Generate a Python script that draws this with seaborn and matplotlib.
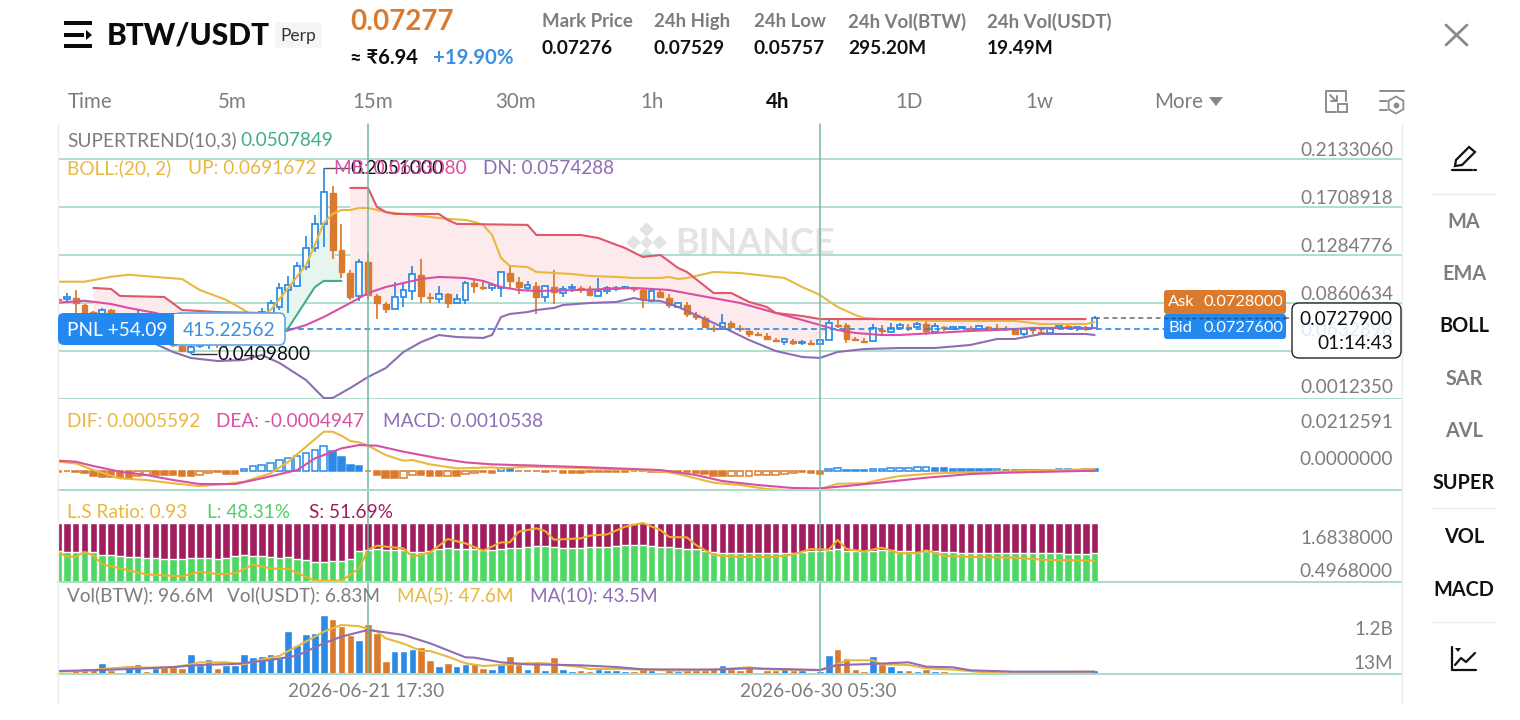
import numpy as np
import pandas as pd
import matplotlib
matplotlib.use("Agg")
import matplotlib.pyplot as plt
from matplotlib.patches import FancyBboxPatch, Polygon, Rectangle
import seaborn as sns

sns.set_theme(style="white")
plt.rcParams['font.family'] = ['Lato', 'DejaVu Sans']

# ---- prices are in units of 0.001 USDT ----
high = [91.4,94.9,97.6,85.2,79,81.7,80.8,75.5,76.4,79.9,74.6,71.9,71.1,64.9,51.6,49.9,53.4,53.4,55.2,56.9,
        60.5,71.1,76.4,81.7,88.8,103.8,110,122.3,145.3,163.9,205.1,189.5,156,115.3,125,131.2,94.1,87,104.7,104.7,
        118.8,125,94.9,101.1,94.9,94.1,105.6,108.2,104.7,102.9,113.5,118.8,109.1,105.6,104.7,101.1,115.3,101.1,102.9,101.1,
        101.1,108.2,101.1,101.1,101.1,100.2,99.4,97.6,97.6,94.1,87,87,78.1,74.6,66.6,76.4,70.2,66.6,62.2,60.5,
        59.6,55.2,55.2,54.3,53.4,53.4,54.3,71.9,71.9,68.4,56,55.2,67.5,67,68.4,68.4,67.5,69.3,71.9,68.4,
        65.8,65.8,65.8,65.8,66.6,65.8,67.5,65.8,63.1,64,64,63.1,64.9,66.6,66.6,65.8,65.8,74.6]
open_ = [89.6,89.6,90.5,84.3,78.1,76.4,79.9,74.6,70.2,69.3,73.7,66.6,69.3,61.4,48.1,42.8,48.1,49,51.6,50.7,
         53.4,56.9,64.9,71.1,77.3,82.6,97.6,101.1,117.9,134.7,156,183.3,133,112.6,92.3,122.3,92.3,85.2,80.8,91.4,
         96.7,110.9,91.4,89.6,94.1,86.1,88.8,103.8,100.2,99.4,99.4,112.6,104.7,99.4,101.1,91.4,100.2,94.9,99.4,99.4,
         98.5,92.3,96.7,98.5,99.4,99.4,97.6,87.9,95.8,90.5,82.6,84.3,75.5,72.8,64,63.1,68.4,64,61.4,58.7,
         56.9,53.4,51.6,52.5,50.7,50.7,49.9,53.4,66.6,66.6,54.3,52.5,52.5,62.2,60.5,64,64.9,64.9,67.5,60.5,
         64.9,63.1,64,64,63.1,64.9,64,64,62.2,58.7,63.1,60.5,59.6,64,65.8,64,64,64]
close = [88.8,91.4,86.1,78.1,73.7,79.9,74.6,70.2,73.7,74.6,68.4,70.2,63.1,49,43.7,47.2,50.7,50.7,49.9,54.3,
         57.8,66.6,72.8,78.1,86.1,99.4,102,118.8,134.7,156,184.2,133,113.5,91.4,122.3,93.2,86.1,80.8,91.4,97.6,
         111.7,92.3,90.5,94.1,86.1,89.6,103.8,101.1,99.4,102,113.5,105.6,100.2,102,91.4,101.1,95.8,98.5,100.2,98.5,
         93.2,96.7,99.4,99.4,100.2,98.5,89.6,96.7,91.4,84.3,86.1,76.4,73.7,64.9,63.1,68.4,64.9,63.1,58.7,57.8,
         54.3,52.5,54.3,50.7,51.6,49.9,53.4,68.4,65.8,54.3,53.4,51.6,64,61.4,64,66.6,64,67.5,61.4,65.8,
         64,64.9,64.9,63.1,65.8,64,63.1,63.1,58.7,63.1,62.2,59.6,64,65.8,64,64.9,63.1,72.8]
low = [87.9,87.9,77.3,74.6,71.1,73.7,72.8,67.5,67.5,66.6,65.8,64.9,61.4,47.2,42.8,40.98,46.3,45.5,46.3,47.2,
       50.7,55.2,62.2,69.3,75.5,79.9,77.3,100.2,115.3,131.2,135.6,125,108.2,88.8,87.9,88.8,71.9,77.3,80.8,82.6,
       88.8,86.1,86.1,86.1,81.7,86.1,85.2,94.9,97.6,96.7,91.4,99.4,94.1,96.7,76.4,87,85.2,91.4,95.8,94.9,
       93.2,92.3,94.1,96.7,98.5,95.8,81.7,87.9,91.4,81.7,81.7,73.7,71.1,64,60.5,63.1,64,60.5,56,56.9,
       54.3,52.5,49,49,49,49.9,49.9,53.4,64,50.7,53.4,51.6,52.5,57.8,59.6,63.1,61.4,64,57.8,60.5,
       61.4,62.2,63.1,61.4,62.2,62.2,61.4,61.4,57.8,56.9,58.7,58.7,58.7,63.1,63.1,61.4,61.4,64]

boll_up_x = [0,3,6,8,11,14,16,19,21,22,23,24,26,28,29,30,31,32,33,34,35,37,41,44,46,47,48,49,50,51,53,54,56,58,60,63,65,68,69,70,71,74,77,80,82,84,86,88,90,91,95,99,103,108,111,114,116,117]
boll_up = [104.9,104.9,109.3,111.1,109.1,107.3,97.6,88.8,79.9,74.6,74.6,79.9,99.4,119.7,137.4,156.8,164.8,168.3,168.3,170.1,170.1,166.5,163,160.4,159.5,157.7,155.1,146.2,125.9,118.8,117.9,113.5,112.6,111.7,110,109.1,108.2,108.2,109.1,107.3,108.2,113.5,112.6,110,108.2,100.2,93.2,82.6,75.5,72.8,71.1,70.2,70.2,70.2,67.5,67.5,67.5,69.3]
boll_mb_x = [0,3,6,8,11,13,15,18,22,25,28,30,33,35,37,41,43,46,48,50,52,54,59,65,69,72,77,81,84,86,88,90,93,95,99,103,106,110,116,117]
boll_mb = [86.4,88.1,85.2,81.7,77.3,72.8,66.6,63.1,59.6,59.6,66.6,73.7,86.1,94.9,100.2,107.3,109.1,108.2,105.6,100.2,97.6,96.7,97.6,99.4,97.6,93.2,86.1,77.3,71.1,66.6,62.2,59.6,57.8,57.8,59.6,61.4,62.2,64,64,64]
boll_dn_x = [0,5,9,11,13,15,18,21,23,25,28,30,31,33,35,37,39,41,43,45,48,49,50,51,53,54,56,57,60,63,65,66,68,70,72,75,78,81,84,86,88,91,95,99,103,106,108,111,116,117]
boll_dn = [75.5,66.6,58.7,49.9,42.8,37.5,34.8,35.7,40.1,33.1,18,2.1,2.1,11,20.7,28.6,42.8,51.6,57.8,56,55.2,57.8,73.7,76.4,78.1,79.9,81.7,84.3,86.1,87,90.5,88.8,87.9,82.6,75.5,64.9,53.4,43.7,38.4,37.5,42.8,45.4,46.3,46.3,49,54.3,54.3,58.7,58.7,57.8]
st_down1_x = [4,6,7,12,14,18,23]
st_down1 = [99.4,98.5,92.3,91.4,79.9,78.1,77.3]
st_down2_x = [33,35,36,37,38,43,44,45,53,54,59,61,64,66,68,70,71,74,76,78,80,81,84,86,116]
st_down2 = [187.8,187.8,171,166.5,164.8,164.8,159.5,156,155.1,146.2,146.2,143.5,134.7,126.8,128.5,117,113.5,94.9,94.9,87,82.6,77.3,74.6,71.9,71.9]
st_up_x = [25,26,29,30,32]
st_up = [57.8,64,100.2,105.6,105.6]
position_price = 63.1
last_price = 72.79

price_ticks = [213.306, 170.8918, 128.4776, 86.0634, 43.6492, 1.235]

# ---- MACD, units of 0.001 ----
macd_hist = [-1,-.4,-.5,-1.5,-3,-3.5,-3.7,-3.9,-3.9,-3,-2.2,-2.2,-2.2,-2.4,-3,-3,-2.4,-1.5,-1,-2,
             -2,1,2.4,3.2,4.5,6.1,6.9,8.4,9.7,11.5,14,11.2,7.5,3.2,2.4,-.3,-2.4,-4,-4.3,-4,
             -2.6,-2.6,-3,-3.2,-3,-3.2,-1.9,-1.3,-1,-1.1,1.5,1.5,-.3,-.3,-.3,-1,-.3,-1.2,-1.2,-1.2,
             -.5,-.8,-.8,-.8,-.8,-.3,-.3,-.5,-.5,-.8,-.8,-1,-1.5,-1.8,-2.8,-3,-2.9,-2.8,-2.7,-2.5,
             -2.4,-2.2,-1.7,-1.3,-1,-1.4,-1.6,1,1.4,.5,.5,.5,1,1.1,1.4,1.6,1.7,1.9,2,1.4,
             1.3,1,1,1,.9,.8,1.2,.5,.4,.4,.4,.4,.4,1.2,1.2,.4,1,1]
dif_x = [0,2,4,7,10,13,16,19,21,24,26,28,30,31,32,33,34,35,37,39,40,42,45,49,50,53,59,68,70,72,74,77,80,83,86,88,91,93,95,99,103,117]
dif = [5.03,4.1,.37,-4.28,-5.22,-7.08,-8.57,-7.45,-6.15,-1.49,5.03,13.41,21.8,21.8,19.56,16.58,15.84,13.97,8.76,5.59,5.96,3.54,1.3,1.86,1.3,2.24,1.5,-.19,-1.86,-4.28,-6.71,-8.01,-10.25,-10.99,-10.25,-7.27,-7.08,-4.84,-2.98,-1.49,-.93,.93]
dea_x = [0,2,4,7,10,13,16,20,23,27,29,32,34,36,39,43,46,49,53,59,68,72,75,79,83,86,89,93,98,103,107,117]
dea = [5.59,5.03,2.61,-.56,-2.42,-5.22,-7.45,-7.45,-4.28,.37,6.89,12.48,14.35,13.97,10.62,6.89,4.66,3.54,2.98,2.05,.37,-2.42,-5.78,-8.01,-9.69,-9.87,-8.57,-6.52,-3.91,-1.86,-1.12,0]
macd_ticks = [21.2591, 0]

# ---- long/short ----
long_pct = [52,50.8,50.3,50.8,51.4,45.8,45.2,44.1,42.9,41.8,40.7,40.1,39,38.4,39.5,40.1,40.7,40.1,39.5,40.1,
            44.6,45.8,44.6,43.5,41.8,41.2,42.4,38.4,36.7,33.9,33.9,35,36.2,38.4,52,54.8,55.4,54.2,54.2,53.7,
            51.4,51.4,52,56.5,57.1,56.5,56.5,56.5,54.8,54.8,56.5,57.1,57.6,59.3,60.5,60.5,59.3,58.2,58.2,57.6,
            58.8,58.8,59.9,61,62.1,62.7,62.1,61,59.9,58.8,58.2,56.5,55.4,53.1,50.8,49.7,49.2,49.2,49.2,49.7,
            49.7,49.7,49.7,49.7,50.8,52,53.1,54.2,56.5,53.1,52,52,53.1,54.2,54.8,53.1,52,51.4,52,52,
            50.8,50.3,49.7,49.7,49.7,49.7,49.7,49.7,49.2,49.2,49.2,49.2,49.2,49.2,48,48,48,48.3]
ratio_x = [0,1,2,3,4,5,7,10,14,16,18,20,22,24,26,29,32,34,35,36,39,40,42,44,46,48,50,51,52,54,55,56,59,60,62,64,66,68,69,71,72,74,77,81,83,85,87,88,89,91,93,95,97,98,100,103,108,111,113,117]
ratio = [1.094,.991,.991,1.087,1.011,.833,.751,.627,.586,.682,.634,.648,.826,.751,.737,.497,.497,.751,1.135,1.217,1.162,.991,1.08,1.354,1.265,1.114,1.286,1.286,1.505,1.574,1.519,1.34,1.368,1.423,1.45,1.608,1.684,1.54,1.395,1.388,1.231,1.025,.984,.984,1.039,1.148,1.135,1.334,1.148,1.1,1.176,1.059,1.066,1.121,1.011,.984,.97,.929,.922,.91]

# ---- volume, in millions ----
volume = [60,40,130,200,210,380,150,85,310,340,105,225,235,320,225,710,320,530,200,310,
          310,710,600,650,700,580,1540,1020,1430,1455,2080,1950,1715,1385,1205,1760,1445,460,815,815,
          875,960,510,285,390,295,365,400,215,190,400,640,345,180,475,155,590,180,105,130,
          95,165,130,140,95,95,215,140,85,200,95,140,155,155,180,310,165,155,200,85,
          140,130,235,140,130,85,105,685,900,570,180,95,625,345,270,155,155,95,165,120,
          120,70,60,40,35,35,45,45,45,35,40,35,35,35,35,35,35,140]
ma5_x = [0,3,5,8,10,13,15,16,19,21,23,25,26,28,30,32,34,36,37,39,41,42,44,46,48,50,53,55,59,60,64,66,70,75,78,80,86,87,89,92,93,96,98,101,105,117]
ma5 = [83,106,177,248,225,237,343,414,414,343,509,639,816,1148,1502,1739,1692,1502,1266,1077,816,816,615,379,284,319,379,379,248,177,177,154,118,177,237,166,130,225,485,485,343,319,201,154,47,83]
ma10_x = [0,5,10,13,16,20,24,27,30,32,35,39,42,46,47,50,53,59,63,66,74,78,86,88,92,96,98,101,103,108,117]
ma10 = [106,142,201,248,319,355,497,651,1088,1325,1562,1384,1088,592,580,414,343,308,248,166,154,201,142,319,355,414,260,237,130,83,83]

# ---- text values ----
tabs = ["Time", "5m", "15m", "30m", "1h", "4h", "1D", "1w", "More"]
side_items = ["MA", "EMA", "BOLL", "SAR", "AVL", "SUPER", "VOL", "MACD"]
stat_names = ["Mark Price", "24h High", "24h Low", "24h Vol(BTW)", "24h Vol(USDT)"]
stat_values = ["0.07276", "0.07529", "0.05757", "295.20M", "19.49M"]
date_labels = ["2026-06-21 17:30", "2026-06-30 05:30"]
cross_idx = [35, 86]

UP, DOWN = "#2b8ae6", "#da7a2e"
YEL, PINK, PUR = "#e9b83f", "#d94fa3", "#8f6db5"
RED, GRN = "#e0566b", "#3fae87"
GRID, CROSS, GRAY = "#a9dbc8", "#74b8a0", "#7d7d7d"
CRIM, LGRN = "#a11d5e", "#4dd864"

W, H = 1520, 720
fig = plt.figure(figsize=(W / 100, H / 100), dpi=100, facecolor="white")

def panel(top, bottom):
    a = fig.add_axes([58 / W, 1 - bottom / H, (1402 - 58) / W, (bottom - top) / H])
    a.set_xlim(0.007, 151.7)
    a.patch.set_alpha(0)
    a.set_axis_off()
    return a

idx = np.arange(len(close))
o, h, l, c = map(np.array, (open_, high, low, close))
is_up = c >= o

# overlay in pixel coordinates for the app's interface
ui = fig.add_axes([0, 0, 1, 1], zorder=10)
ui.set_xlim(0, W); ui.set_ylim(H, 0); ui.set_axis_off(); ui.patch.set_alpha(0)

def T(x, y, s, color=GRAY, size=13.7, weight="normal", ha="left", zorder=20, axes=ui):
    return axes.text(x, y + 1.5, s, color=color, fontsize=size, fontweight=weight, ha=ha, va="center",
                     zorder=zorder, transform=ui.transData)

# ------ main panel ------
ax = panel(124, 399)
ax.set_ylim(1.235, 244.3)
for t in price_ticks:
    ax.axhline(t, color=GRID, lw=1.3, zorder=1)
# watermark
T(675, 242, "BINANCE", color="#e3e3e3", size=26, weight="bold", axes=ax, zorder=0.5)
for (dx, dy, s) in [(0, -13, 42), (0, 13, 42), (-13, 0, 42), (13, 0, 42)]:
    ax.scatter([646 + dx], [242 + dy], marker="D", s=s, color="#e3e3e3", transform=ui.transData, zorder=0.5)
ax.scatter([646], [242], marker="D", s=30, color="#e3e3e3", transform=ui.transData, zorder=0.5)

# supertrend fills
def band(xs, ys, color):
    xs = np.array(xs)
    grid = np.arange(xs[0], xs[-1] + 1)
    px = np.concatenate([xs, grid[::-1]])
    py = np.concatenate([ys, c[grid[::-1]]])
    ax.add_patch(Polygon(np.column_stack([px, py]), closed=True, fc=color, ec="none", zorder=1.2))
band(st_down1_x, st_down1, "#fdeaec")
band(st_down2_x, st_down2, "#fdeaec")
band(st_up_x, st_up, "#e6f6ee")

# candles
ax.vlines(idx[is_up], l[is_up], h[is_up], color=UP, lw=1.25, zorder=2)
ax.vlines(idx[~is_up], l[~is_up], h[~is_up], color=DOWN, lw=1.25, zorder=2)
ax.bar(idx[is_up], (c - o)[is_up], bottom=o[is_up], width=0.66, facecolor="white",
       edgecolor=UP, lw=1.25, zorder=2.2)
ax.bar(idx[~is_up], (o - c)[~is_up], bottom=c[~is_up], width=0.66, facecolor=DOWN,
       edgecolor=DOWN, lw=1.0, zorder=2.2)

for xs, ys, col in [(boll_up_x, boll_up, YEL), (boll_mb_x, boll_mb, PINK), (boll_dn_x, boll_dn, PUR),
                    (st_down1_x, st_down1, RED), (st_down2_x, st_down2, RED), (st_up_x, st_up, GRN)]:
    sns.lineplot(x=xs, y=ys, ax=ax, color=col, lw=1.5, zorder=3, errorbar=None, estimator=None, sort=False)
ax.set_axis_off()

ax.hlines(position_price, 25, 127.5, color=UP, lw=1.2, ls=(0, (3.5, 2.2)), zorder=4)
ax.hlines(last_price, 117, 139, color="#777777", lw=1.2, ls=(0, (3, 2.2)), zorder=4)
ax.hlines(max(high), 30, 33, color="#555555", lw=1, zorder=4)
ax.hlines(min(low), 15, 18, color="#333333", lw=1, zorder=4)
ax.text(33, max(high), f"{max(high)/1000:.7f}", color="#111111", fontsize=13.7, va="center", zorder=6)
ax.text(18, min(low), f"{min(low)/1000:.7f}", color="#111111", fontsize=13.7, va="center", zorder=6)

# ------ MACD panel ------
mx = panel(399, 490)
mx.set_ylim(-10.79, 40.08)
mh = np.array(macd_hist)
rising = np.r_[False, np.diff(mh) > 0]
for i, v in zip(idx, mh):
    col = UP if v >= 0 else DOWN
    mx.bar(i, v, width=0.74, facecolor="white" if rising[i] else col, edgecolor=col, lw=1.1, zorder=2)
sns.lineplot(x=dif_x, y=dif, ax=mx, color=YEL, lw=1.5, zorder=3, errorbar=None, estimator=None)
sns.lineplot(x=dea_x, y=dea, ax=mx, color=PINK, lw=1.5, zorder=3, errorbar=None, estimator=None)
mx.set_axis_off()

# ------ long/short panel ------
lx = panel(490, 582)
lx.set_ylim(0, 155.9)
sns.barplot(x=idx, y=np.full(len(idx), 100.0), ax=lx, color=CRIM, saturation=1, native_scale=True,
            width=0.86, errorbar=None, zorder=2)
sns.barplot(x=idx, y=long_pct, ax=lx, color=LGRN, saturation=1, native_scale=True,
            width=0.86, errorbar=None, zorder=2.1)
lx.set_xlim(0.007, 151.7); lx.set_ylim(0, 155.9); lx.set_axis_off()
rx = panel(490, 582)
rx.set_ylim(0.470, 2.363)
sns.lineplot(x=ratio_x, y=ratio, ax=rx, color="#edb02d", lw=1.5, zorder=3, errorbar=None, estimator=None)
rx.set_xlim(0.007, 151.7); rx.set_ylim(0.470, 2.363); rx.set_axis_off()

# ------ volume panel ------
vx = panel(582, 674)
vdf = pd.DataFrame({"i": idx, "v": volume, "d": np.where(is_up, "up", "down")})
sns.barplot(data=vdf, x="i", y="v", hue="d", palette={"up": UP, "down": DOWN}, ax=vx, native_scale=True,
            width=0.86, dodge=False, errorbar=None, saturation=1, legend=False, zorder=2)
sns.lineplot(x=ma5_x, y=ma5, ax=vx, color=YEL, lw=1.5, zorder=3, errorbar=None, estimator=None)
sns.lineplot(x=ma10_x, y=ma10, ax=vx, color=PUR, lw=1.5, zorder=3, errorbar=None, estimator=None)
vx.set_xlim(0.007, 151.7); vx.set_ylim(0, 3260); vx.set_axis_off()

# crosshairs, separators, frame
for i in cross_idx:
    px = 57.94 + 8.86 * i
    ui.plot([px, px], [124, 674], color=CROSS, lw=1.1, zorder=5)
for y in (490, 582, 674):
    ui.plot([58, 1402], [y, y], color=GRID, lw=1.4, zorder=5)
for x in (58, 1402):
    ui.plot([x, x], [124, 702], color="#ececec", lw=1, zorder=5)

# ------ legends ------
T(67, 139, "SUPERTREND(10,3)"); T(240, 139, "0.0507849", color=GRN)
T(67, 167, "BOLL:(20, 2)", color=YEL); T(188, 167, "UP: 0.0691672", color=YEL)
T(334, 167, "MB: 0.0633080", color=PINK); T(483, 167, "DN: 0.0574288", color=PUR)
T(67, 420, "DIF: 0.0005592", color=YEL); T(216, 420, "DEA: -0.0004947", color=PINK)
T(383, 420, "MACD: 0.0010538", color=PUR)
T(67, 511, "L.S Ratio: 0.93", color=YEL); T(207, 511, "L: 48.31%", color="#52cf6b"); T(309, 511, "S: 51.69%", color=CRIM)
T(67, 594, "Vol(BTW): 96.6M"); T(227, 594, "Vol(USDT): 6.83M")
T(397, 594, "MA(5): 47.6M", color=YEL); T(530, 594, "MA(10): 43.5M", color=PUR)

# ------ axis labels ------
for y, v in zip((149, 197, 245, 293, 386), (0, 1, 2, 3, 5)):
    T(1393, y, f"{price_ticks[v]/1000:.7f}", ha="right")
T(1393, 421, f"{macd_ticks[0]/1000:.7f}", ha="right"); T(1393, 458, f"{macd_ticks[1]/1000:.7f}", ha="right")
T(1393, 537, "1.6838000", ha="right"); T(1393, 570, "0.4968000", ha="right")
T(1393, 628, "1.2B", ha="right"); T(1393, 662, "13M", ha="right")
for i, s in zip(cross_idx, date_labels):
    T(57.94 + 8.86 * i - 2, 690, s, ha="center")

# ------ boxes on the price scale ------
def box(x0, y0, x1, y1, fc, ec="none", lw=1, r=3, z=12):
    ui.add_patch(FancyBboxPatch((x0 + r, y0 + r), x1 - x0 - 2 * r, y1 - y0 - 2 * r,
                                boxstyle=f"round,pad={r},rounding_size={r}", fc=fc, ec=ec, lw=lw, zorder=z))

box(1164, 290, 1286, 314, DOWN, z=12)
box(1164, 314, 1286, 339, "#2389f0", z=12)
T(1168, 301, "Ask", color="#ffffff", size=11.8); T(1283, 301, "0.0728000", color="#ffffff", size=11.8, ha="right")
T(1168, 326, "Bid", color="#ffffff", size=11.8); T(1283, 326, "0.0727600", color="#ffffff", size=11.8, ha="right")
ui.plot([1164, 1286], [318, 318], color="#1b4f86", lw=1, ls=(0, (3, 2)), zorder=13)
box(1292, 303, 1401, 358, "#ffffff", ec="#222222", lw=1, r=7, z=12)
T(1393, 329, "0.0632898", color="#dcebf9", ha="right", zorder=13)
T(1393, 318, "0.0727900", color="#111111", ha="right", zorder=14)
T(1393, 342, "01:14:43", color="#111111", ha="right", zorder=14)

# PNL tag
box(174, 313, 285, 345, "#ffffff", ec="#5ea8ea", lw=1.2, r=6, z=12)
box(58, 313, 180, 345, "#2389f0", r=6, z=12)
ui.add_patch(Rectangle((174, 314), 8, 30, fc="#ffffff", ec="none", zorder=12.5))
T(67, 329, "PNL +54.09", color="#ffffff", size=13.7)
T(183, 329, "415.22562", color="#3d8fdc", size=13.7)

# ------ header ------
for y0, x1 in ((21, 92), (33, 84), (44, 92)):
    ui.add_patch(Rectangle((64, y0), x1 - 64, 4, fc="#0b0b0b", ec="none", zorder=12))
ui.add_patch(Polygon([[86, 30], [92, 35], [86, 40]], fc="#0b0b0b", ec="none", zorder=12))
T(107, 34.5, "BTW/USDT", color="#0b0b0b", size=21.5, weight="black")
box(275, 22, 322, 48, "#f5f5f5", r=4, z=12)
T(298.5, 34.5, "Perp", color="#333333", size=12.5, ha="center")
T(350, 21, "0.07277", color=DOWN, size=20, weight="bold")
T(350, 57, "≈ ₹6.94", color="#0b0b0b", size=14.5, weight="bold")
T(433, 57, "+19.90%", color="#3c90e0", size=14.7, weight="bold")
for x, n, v in zip((542, 654, 754, 848, 987), stat_names, stat_values):
    T(x, 20, n, color=GRAY, size=13.4, weight="bold")
    T(x, 47, v, color="#111111", size=13.8, weight="bold")

# tabs
for x, s in zip((68, 218, 352, 495, 640, 766, 895, 1025, 1154), tabs):
    cur = s == "4h"
    T(x, 100.5, s, color="#111111" if cur else GRAY, size=14.8, weight="bold" if cur else "normal")
ui.add_patch(Polygon([[1209, 97], [1223, 97], [1216, 106]], fc="#888888", ec="none", zorder=12))

# layout icons
IC = "#8c8c8c"
ui.plot([1346, 1346, 1326, 1326, 1336], [101, 91, 91, 112, 112], color=IC, lw=1.4, zorder=12)
ui.add_patch(Rectangle((1338, 104), 9, 8, fc="none", ec=IC, lw=1.4, zorder=12))
ui.plot([1330, 1336], [95, 101], color=IC, lw=1.4, zorder=12)
ui.plot([1331, 1337, 1337], [101, 101, 96], color=IC, lw=1.4, zorder=12)
ui.plot([1380, 1404], [91, 91], color=IC, lw=1.4, zorder=12)
ui.plot([1380, 1387], [101, 101], color=IC, lw=1.4, zorder=12)
ui.plot([1380, 1387], [110, 110], color=IC, lw=1.4, zorder=12)
ui.scatter([1396], [105], marker="h", s=150, fc="none", ec=IC, lw=1.3, zorder=12)
ui.scatter([1396], [105], marker="o", s=10, color=IC, zorder=12)

# close
ui.plot([1446, 1467], [25, 45], color="#8a8a8a", lw=2, zorder=12)
ui.plot([1446, 1467], [45, 25], color="#8a8a8a", lw=2, zorder=12)

# right column
for y, s, on in zip((221, 273, 325, 378, 430, 482, 536, 589), side_items,
                    (False, False, True, False, False, True, True, True)):
    T(1464, y - 0.5, s, color="#111111" if on else GRAY, size=14.3, weight="bold", ha="center")
for y in (194, 508, 622):
    ui.plot([1432, 1496], [y, y], color="#eeeeee", lw=1, zorder=12)
# pencil
ui.add_patch(Polygon([[1456, 160], [1469, 147], [1475, 152], [1462, 165], [1455, 166]],
                     fc="none", ec="#111111", lw=1.6, zorder=12))
ui.plot([1452, 1472], [170, 170], color="#111111", lw=1.6, zorder=12)
ui.plot([1474, 1476], [170, 170], color="#111111", lw=1.6, zorder=12)
# chart icon
ui.plot([1452, 1452, 1476], [647, 670, 670], color="#111111", lw=1.6, zorder=12)
ui.plot([1455, 1461, 1466, 1475], [665, 658, 662, 653], color="#111111", lw=1.6, zorder=12)
ui.add_patch(Polygon([[1455, 648], [1461, 648], [1458, 652]], fc="#111111", ec="none", zorder=12))

fig.savefig("out.png", dpi=100, facecolor="white")
